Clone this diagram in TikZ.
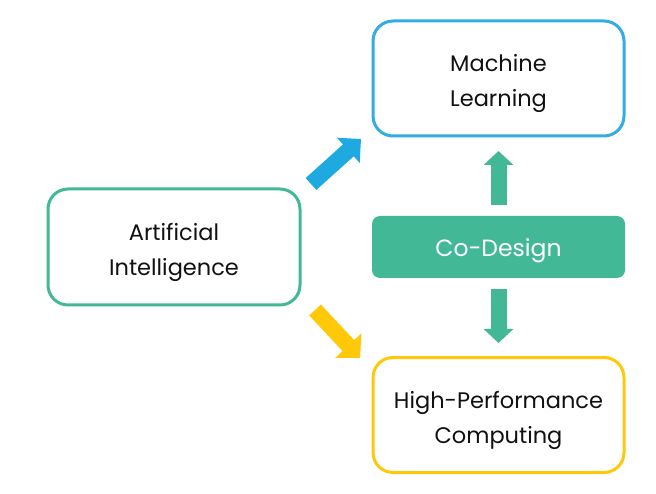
\documentclass[tikz,border=0pt]{standalone}
\usepackage{fontspec}
\setmainfont{Poppins}
\usetikzlibrary{arrows.meta}
\definecolor{cdgreen}{HTML}{43B896}
\definecolor{mlblue}{HTML}{33ACE3}
\definecolor{arblue}{HTML}{1FA9E1}
\definecolor{hpcyellow}{HTML}{FFC90A}
\definecolor{txt}{HTML}{111111}
\newcommand{\lowtext}[1]{\raisebox{-4pt}[\height][\depth]{\begin{tabular}{@{}c@{}}#1\end{tabular}}}
\begin{document}
\begin{tikzpicture}[x=1pt,y=-1pt,
  box/.style={draw, line width=3pt, rounded corners=20pt, minimum width=251pt, minimum height=115pt, align=center, font=\fontsize{22.5}{35}\selectfont, text=txt, inner sep=0pt},
  cdbox/.style={fill=cdgreen, rounded corners=8pt, minimum width=253pt, minimum height=62pt, font=\fontsize{23.5}{28}\selectfont, text=white, inner sep=0pt},
  fat/.style={line width=16pt}
]
\useasboundingbox (0,0) rectangle (656,494);
\node[box, draw=cdgreen, minimum width=252pt, minimum height=116pt] (ai) at (174,247) {\lowtext{Artificial\\Intelligence}};
\node[box, draw=mlblue] (ml) at (498.5,78.5) {\lowtext{Machine\\Learning}};
\node[box, draw=hpcyellow] (hpc) at (498.5,415) {\lowtext{High-Performance\\Computing}};
\node[cdbox] (cd) at (498.5,247) {\lowtext{Co-Design}};
% diagonal arrows
\coordinate (b1) at (311,184);
\coordinate (b2) at (361,139);
\coordinate (y1) at (315,310);
\coordinate (y2) at (360,358);
\draw[fat, color=arblue, -{Triangle[length=17pt,width=33pt]}] (b1) -- (b2);
\draw[fat, color=hpcyellow, -{Triangle[length=17pt,width=35pt]}] (y1) -- (y2);
% vertical arrows
\coordinate (u1) at (498.5,205);
\coordinate (u2) at (498.5,151);
\coordinate (d1) at (498.5,289);
\coordinate (d2) at (498.5,343);
\draw[fat, color=cdgreen, -{Triangle[length=14pt,width=29pt]}] (u1) -- (u2);
\draw[fat, color=cdgreen, -{Triangle[length=14pt,width=29pt]}] (d1) -- (d2);
\end{tikzpicture}
\end{document}
